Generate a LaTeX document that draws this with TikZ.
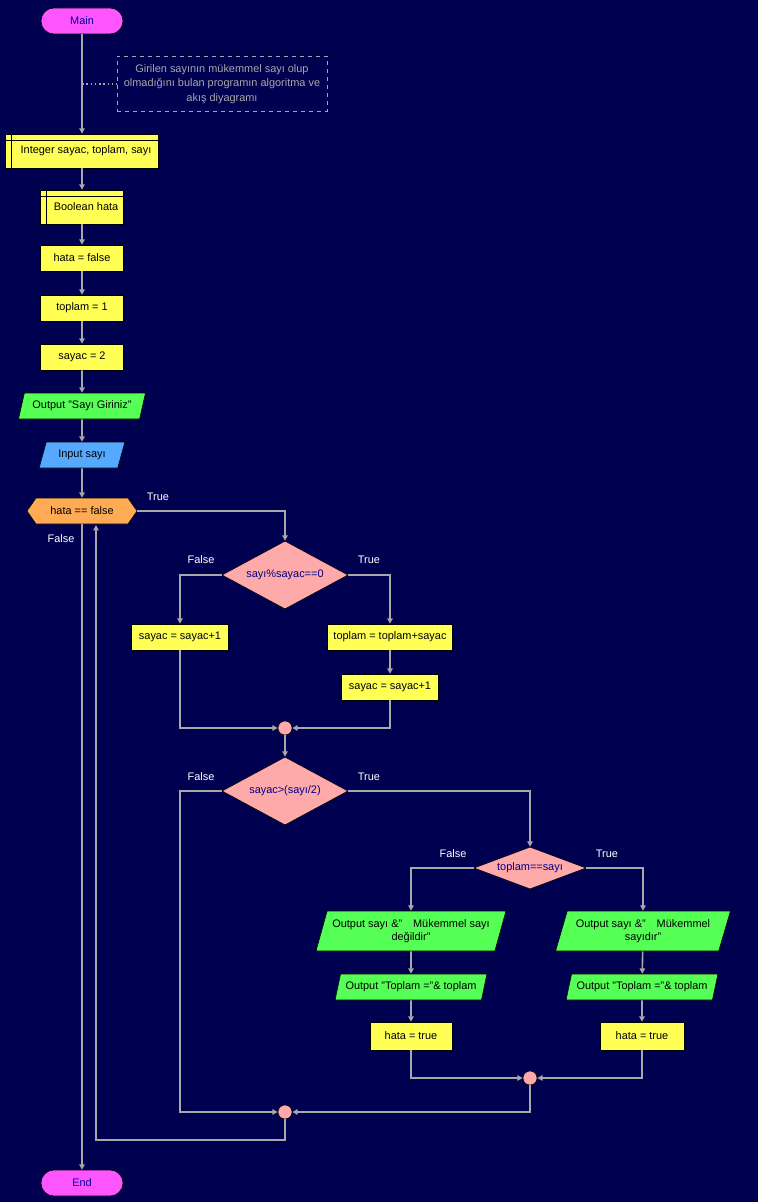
\documentclass[tikz,border=0pt]{standalone}
\usepackage{fontspec}
\setmainfont{Liberation Sans}
\usetikzlibrary{shapes.geometric,shapes.symbols,arrows.meta}
\definecolor{bgblue}{HTML}{000050}
\definecolor{lineg}{HTML}{A8A8A8}
\definecolor{boxyel}{HTML}{FFFF55}
\definecolor{termmag}{HTML}{FF55FF}
\definecolor{outgrn}{HTML}{55FF55}
\definecolor{inblue}{HTML}{55AAFF}
\definecolor{looporg}{HTML}{FFAA55}
\definecolor{decpink}{HTML}{FFAAAA}
\tikzset{
  base/.style={draw=black, font=\fontsize{8.2}{10}\selectfont, align=center, inner sep=1pt},
  term/.style={base, fill=termmag, text=blue!60!black, rounded corners=13*0.75pt, minimum width=82*0.75pt, minimum height=26*0.75pt},
  proc/.style={base, fill=boxyel, minimum height=26*0.75pt},
  decl/.style={proc, minimum height=34*0.75pt, path picture={
      \draw (path picture bounding box.north west) ++(4.5pt,0) -- ++(0,-40pt);
      \draw (path picture bounding box.north west) ++(0,-4.5pt) -- ++(200pt,0);}},
  io/.style={base, trapezium, trapezium left angle=68, trapezium right angle=112, trapezium stretches=true, minimum height=26*0.75pt},
  outp/.style={io, fill=outgrn},
  inp/.style={io, fill=inblue},
  loopc/.style={base, fill=looporg, signal, signal to=west and east, signal pointer angle=110, minimum height=26*0.75pt, minimum width=110*0.75pt},
  dec/.style={base, fill=decpink, diamond, aspect=1.85, inner sep=0pt, text=blue!50!black},
  joint/.style={circle, draw=black, fill=decpink, minimum size=14*0.75pt, inner sep=0pt},
  lbl/.style={text=white, font=\fontsize{8.2}{10}\selectfont},
  conn/.style={draw=lineg, line width=1.2pt, -{Triangle[length=4pt,width=4pt]}},
  line/.style={draw=lineg, line width=1.2pt}
}
\begin{document}
\begin{tikzpicture}[x=0.75pt,y=-0.75pt]
\fill[bgblue] (0,0) rectangle (758,1202);
\useasboundingbox (0,0) rectangle (758,1202);
% main column
\node[term] (main) at (82,21) {Main};
\node[draw=lineg, dashed, text=lineg, font=\fontsize{8.2}{11}\selectfont, align=center, minimum width=210*0.75pt, minimum height=55*0.75pt] (note) at (222,84) {Girilen sayının mükemmel sayı olup\\olmadığını bulan programın algoritma ve\\akış diyagramı};
\node[decl, minimum width=153*0.75pt] (decint) at (82,151) {\hspace{6pt}Integer sayac, toplam, sayı};
\node[decl, minimum width=83*0.75pt] (decbool) at (82,207) {\hspace{6pt}Boolean hata};
\node[proc, minimum width=83*0.75pt] (hatainit) at (82,258) {hata = false};
\node[proc, minimum width=83*0.75pt] (topinit) at (82,308) {toplam = 1};
\node[proc, minimum width=83*0.75pt] (sayinit) at (82,357) {sayac = 2};
\node[outp, minimum width=128*0.75pt] (outgir) at (82,406) {Output "Sayı Giriniz"};
\node[inp, minimum width=86*0.75pt] (insayi) at (82,455) {Input sayı};
\node[loopc] (loop) at (82,511) {hata == false};
\node[term] (end) at (82,1183) {End};
% loop body
\node[dec, minimum width=126*0.75pt, minimum height=68*0.75pt] (mod) at (285,575) {sayı\%sayac==0};
\node[proc, minimum width=97*0.75pt] (incl) at (180,637) {sayac = sayac+1};
\node[proc, minimum width=125*0.75pt] (addt) at (390,637) {toplam = toplam+sayac};
\node[proc, minimum width=97*0.75pt] (incr) at (390,687) {sayac = sayac+1};
\node[joint] (j1) at (285,728) {};
\node[dec, minimum width=126*0.75pt, minimum height=68*0.75pt] (half) at (285,791) {sayac>(sayı/2)};
\node[dec, minimum width=112*0.75pt, minimum height=42*0.75pt, aspect=2.7] (eq) at (530,868) {toplam==sayı};
\node[outp, minimum width=190*0.75pt, minimum height=40*0.75pt] (outno) at (411,931) {Output sayı \&"\quad Mükemmel sayı\\değildir"};
\node[outp, minimum width=175*0.75pt, minimum height=40*0.75pt] (outyes) at (643,931) {Output sayı \&"\quad Mükemmel\\sayıdır"};
\node[outp, minimum width=152*0.75pt] (totl) at (411,987) {Output "Toplam ="\& toplam};
\node[outp, minimum width=152*0.75pt] (totr) at (642,987) {Output "Toplam ="\& toplam};
\node[proc, minimum width=82*0.75pt, minimum height=28*0.75pt] (hatal) at (411,1036) {hata = true};
\node[proc, minimum width=84*0.75pt, minimum height=28*0.75pt] (hatar) at (642,1036) {hata = true};
\node[joint] (j2) at (530,1078) {};
\node[joint] (j3) at (285,1112) {};
\coordinate (back) at (96,1140);
% labels
\node[lbl] at (158,497) {True};
\node[lbl] at (61,539) {False};
\node[lbl] at (201,560) {False};
\node[lbl] at (369,560) {True};
\node[lbl] at (201,777) {False};
\node[lbl] at (369,777) {True};
\node[lbl] at (453,854) {False};
\node[lbl] at (607,854) {True};
% connectors
\draw[conn] (main) -- (decint);
\draw[lineg, line width=1.2pt, dotted] (main.south |- note.west) -- (note.west);
\draw[conn] (decint) -- (decbool);
\draw[conn] (decbool) -- (hatainit);
\draw[conn] (hatainit) -- (topinit);
\draw[conn] (topinit) -- (sayinit);
\draw[conn] (sayinit) -- (outgir);
\draw[conn] (outgir) -- (insayi);
\draw[conn] (insayi) -- (loop);
\draw[conn] (loop.south) -- (end);
\draw[conn] (loop.east) -| (mod.north);
\draw[conn] (mod.west) -| (incl.north);
\draw[conn] (mod.east) -| (addt.north);
\draw[conn] (addt) -- (incr);
\draw[conn] (incl.south) |- (j1);
\draw[conn] (incr.south) |- (j1);
\draw[conn] (j1) -- (half);
\draw[conn] (half.west) -| (180,1112) -- (j3);
\draw[conn] (half.east) -| (eq.north);
\draw[conn] (eq.west) -| (outno.north);
\draw[conn] (eq.east) -| (outyes.north);
\draw[conn] (outno) -- (totl);
\draw[conn] (outyes) -- (totr);
\draw[conn] (totl) -- (hatal);
\draw[conn] (totr) -- (hatar);
\draw[conn] (hatal.south) |- (j2);
\draw[conn] (hatar.south) |- (j2);
\draw[conn] (j2) |- (j3);
\draw[conn] (j3) |- (back) -- (96,525);
\end{tikzpicture}
\end{document}
